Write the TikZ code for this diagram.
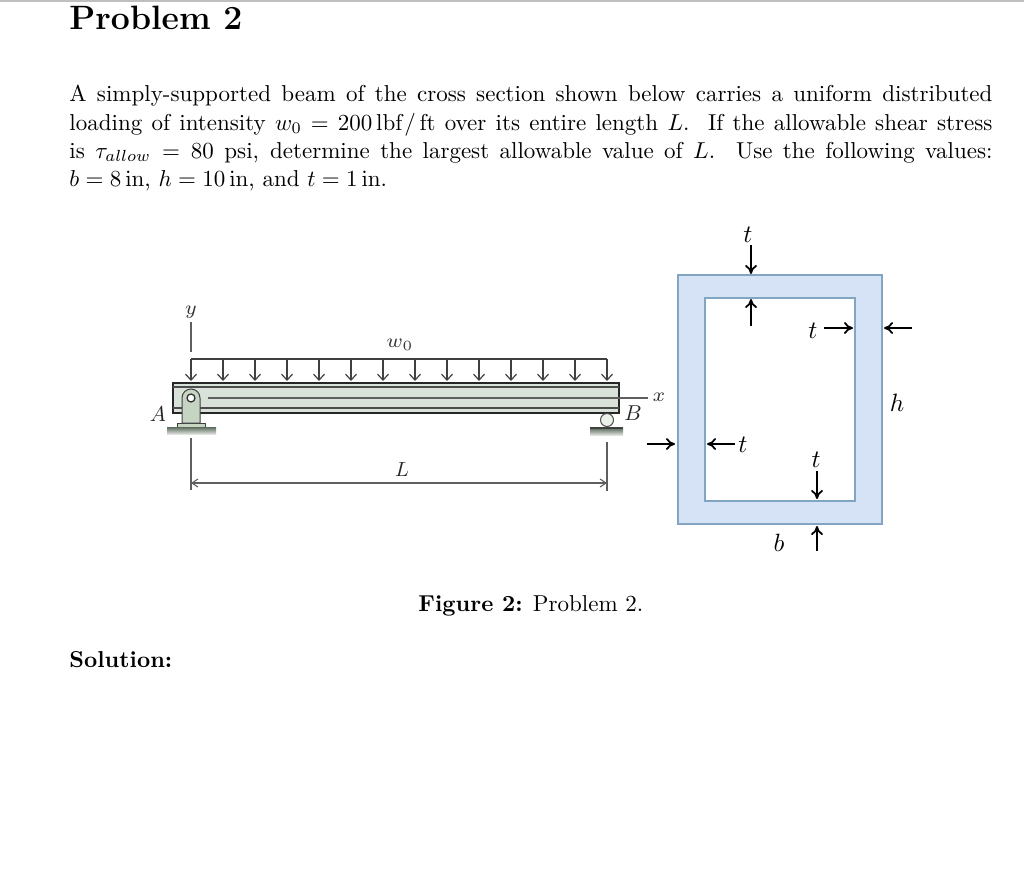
\documentclass[tikz,border=0pt]{standalone}
\usepackage{amsmath,amssymb}
\usepackage{tikz}
\usetikzlibrary{positioning, arrows.meta}
\definecolor{hueco}{RGB}{214, 227, 246}
\definecolor{borde}{RGB}{130, 165, 195}
\definecolor{viga}{RGB}{216, 226, 216}
\definecolor{soporte}{RGB}{198, 212, 194}
\definecolor{suelo}{RGB}{92, 108, 92}
\definecolor{linea}{RGB}{95, 95, 95}
\tikzset{
    body/.style={anchor=north west, inner sep=0pt, scale=2.3, text width=401.3pt, align=justify, font=\fontsize{10}{12.35}\selectfont},
    txtlab/.style={inner sep=0pt, scale=2.3},
    figlab/.style={inner sep=0pt, scale=2.8, font=\scriptsize, text=black!80},
    dimlab/.style={inner sep=0pt, scale=2.5},
    beamlab/.style={inner sep=0pt, scale=2.15, text=black!85},
    tarrow/.style={-{Computer Modern Rightarrow[length=9pt,width=12pt]}, black, line width=1.8pt},
    load/.style={-{Straight Barb[length=6pt,width=11pt]}, black!75, line width=1.2pt},
    thinline/.style={-, linea, line width=1.1pt},
    dimen/.style={{Straight Barb[length=6pt,width=8pt]}-{Straight Barb[length=6pt,width=8pt]}, linea, line width=1.1pt},
}
\begin{document}
\begin{tikzpicture}[x=1pt, y=-1pt]
    \useasboundingbox (0,0) rectangle (1024,872);
    \fill[black!25] (0,0) rectangle (1024,2);

    \node[txtlab, scale=1.02, anchor=base west, font=\Large\bfseries] (title) at (69,30) {Problem 2};
    \node[body] (text) at (69,84.7) {A simply-supported beam of the cross section shown below carries a uniform distributed\linebreak
        loading of intensity $w_0 = 200\,\mathrm{lbf/\,ft}$ over its entire length $L$.\ \ If the allowable shear stress\linebreak
        is $\tau_{allow} = 80$ psi, determine the largest allowable value of $L$.\ \ Use the following values:\linebreak
        $b = 8\,\mathrm{in}$, $h = 10\,\mathrm{in}$, and $t = 1\,\mathrm{in}$.};

    % beam
    \draw[black!85, line width=1.3pt, fill=viga] (173,383) rectangle (619,413);
    \draw[black!70, line width=1.1pt] (173,387) -- (619,387);
    \draw[black!70, line width=1.1pt] (173,408) -- (619,408);

    % left support
    \draw[black!75, line width=1pt, fill=soporte] (177,427) rectangle (205,423);
    \draw[black!75, line width=1pt, fill=soporte] (182,423) -- (182,398) arc[start angle=180, end angle=360, radius=9] -- (200,423) -- cycle;
    \node[circle, draw=black!80, line width=1.3pt, fill=white, inner sep=0pt, minimum size=8pt] (pinA) at (191,398) {};
    \shade[top color=suelo, bottom color=white!80!suelo] (167,427) rectangle (216,434);

    % right support
    \node[circle, draw=black!70, line width=1pt, fill=viga!50, inner sep=0pt, minimum size=13pt] (rollB) at (607,420) {};
    \shade[top color=suelo, bottom color=white!80!suelo] (590,428) rectangle (623,435);
    \fill[black!75] (590,427) rectangle (623,428.5);

    % axes
    \coordinate (yTop) at (191,322);
    \coordinate (yBot) at (191,352);
    \coordinate (xLeft) at (208,398);
    \coordinate (xRight) at (648,398);
    \draw[thinline] (yTop) -- (yBot);
    \draw[thinline] (xLeft) -- (xRight);
    \node[figlab] (yLab) at (191,312) {$y$};
    \node[figlab] (xLab) at (659,397) {$x$};
    \node[beamlab] (aLab) at (158,414) {$A$};
    \node[beamlab] (bLab) at (633,413) {$B$};
    \node[figlab] (wLab) at (400,345) {$w_0$};

    % load
    \coordinate (loadL) at (191,359);
    \coordinate (loadR) at (607,359);
    \draw[load, -] (loadL) -- (loadR);
    \foreach \xq in {191,223,...,607}{
        \coordinate (q\xq) at (\xq,359);
        \coordinate (e\xq) at (\xq,381);
        \draw[load] (q\xq) -- (e\xq);
    }

    % length
    \coordinate (dimLt) at (191,438);
    \coordinate (dimLb) at (191,490);
    \coordinate (dimRt) at (607,442);
    \coordinate (dimRb) at (607,491);
    \coordinate (dimL) at (191,483);
    \coordinate (dimR) at (607,483);
    \draw[thinline] (dimLt) -- (dimLb);
    \draw[thinline] (dimRt) -- (dimRb);
    \draw[dimen] (dimL) -- (dimR);
    \node[beamlab, scale=0.95] (lLab) at (402,470) {$L$};

    % cross section
    \draw[borde, line width=2.4pt, fill=hueco] (678,275) rectangle (882,524);
    \draw[borde, line width=2.4pt, fill=white] (705,298) rectangle (855,501);

    \node[dimlab] (t1) at (748,235) {$t$};
    \node[dimlab] (t2) at (813,331) {$t$};
    \node[dimlab] (t3) at (743,445) {$t$};
    \node[dimlab] (t4) at (816,460) {$t$};
    \node[dimlab] (hLab) at (897,403) {$h$};
    \node[dimlab] (bDim) at (779,543) {$b$};

    \coordinate (a1) at (751,245);
    \coordinate (a1e) at (751,274);
    \coordinate (a2) at (751,326);
    \coordinate (a2e) at (751,299);
    \coordinate (a3) at (824,328);
    \coordinate (a3e) at (853,328);
    \coordinate (a4) at (912,328);
    \coordinate (a4e) at (884,328);
    \coordinate (a5) at (647,444);
    \coordinate (a5e) at (675,444);
    \coordinate (a6) at (735,444);
    \coordinate (a6e) at (707,444);
    \coordinate (a7) at (817,471);
    \coordinate (a7e) at (817,499);
    \coordinate (a8) at (817,551);
    \coordinate (a8e) at (817,526);
    \foreach \n in {1,...,8}{
        \draw[tarrow] (a\n) -- (a\n e);
    }

    \node[txtlab, anchor=base west] (fig) at (418,611) {\textbf{Figure 2:} Problem 2.};
    \node[txtlab, anchor=base west, font=\bfseries] (sol) at (69,667) {Solution:};
\end{tikzpicture}
\end{document}
